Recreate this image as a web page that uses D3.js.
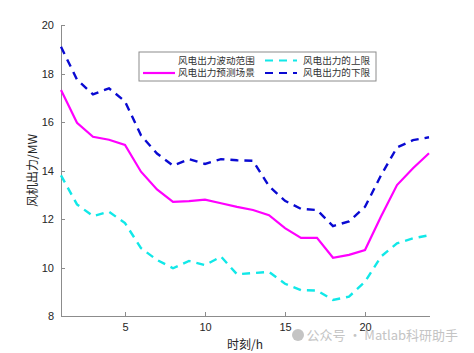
<!DOCTYPE html>
<meta charset="utf-8">
<head>
<style>
  body { margin: 0; background: #fff; }
  .axis text { font: 11px "Liberation Sans", Arial, sans-serif; fill: #262626; }
  .axis path, .axis line { stroke: #8c8c8c; shape-rendering: crispEdges; }
  .cjk { font-family: "Noto Sans CJK SC", sans-serif; }
</style>
</head>
<body>
<script src="https://d3js.org/d3.v7.min.js"></script>
<script>
// hours 1..24
var hours = d3.range(1, 25);
// forecast scenario (magenta)
var forecast = [17.32, 15.97, 15.39, 15.27, 15.05, 13.95, 13.22, 12.71, 12.74, 12.8, 12.65, 12.5,
                12.37, 12.16, 11.62, 11.22, 11.22, 10.4, 10.52, 10.72, 12.1, 13.4, 14.09, 14.71];
// upper bound (cyan dashed)
var upper = [13.8, 12.6, 12.12, 12.3, 11.83, 10.8, 10.31, 9.97, 10.27, 10.1, 10.45, 9.72,
             9.77, 9.82, 9.33, 9.07, 9.05, 8.66, 8.8, 9.41, 10.45, 11.0, 11.2, 11.33];
// lower bound (blue dashed)
var lower = [19.1, 17.75, 17.14, 17.39, 16.85, 15.45, 14.7, 14.2, 14.47, 14.27, 14.47, 14.42,
             14.4, 13.35, 12.75, 12.42, 12.37, 11.71, 11.9, 12.5, 13.8, 14.95, 15.25, 15.37];
var xTicks = [5, 10, 15, 20];
var yTicks = [8, 10, 12, 14, 16, 18, 20];

var W = 474, H = 353;
var margin = { top: 25, right: 45, bottom: 37, left: 61 },
    width = W - margin.left - margin.right,
    height = H - margin.top - margin.bottom;

var svg = d3.select("body").append("svg")
    .attr("width", W)
    .attr("height", H);

var g = svg.append("g")
    .attr("transform", "translate(" + margin.left + "," + margin.top + ")");

var x = d3.scaleLinear().domain([1, 24]).range([0, width]);
var y = d3.scaleLinear().domain([8, 20]).range([height, 0]);

//axes, ticks pointing inward
g.append("g")
    .attr("class", "axis")
    .attr("transform", "translate(0," + height + ")")
    .call(d3.axisBottom(x).tickValues(xTicks).tickSizeInner(-4).tickSizeOuter(0).tickPadding(7));

g.append("g")
    .attr("class", "axis")
    .call(d3.axisLeft(y).tickValues(yTicks).tickSizeInner(-4).tickSizeOuter(0).tickPadding(7));

//lines
var series = [
    { vals: forecast, color: "#ff00ff", width: 2.2, dash: null },
    { vals: upper, color: "#11e8e8", width: 2.4, dash: "8,6" },
    { vals: lower, color: "#0a0ad2", width: 2.4, dash: "8,6" }
];

var line = d3.line()
    .x(function(d, i) { return x(hours[i]); })
    .y(function(d) { return y(d); });

series.forEach(function(s) {
    g.append("path")
        .datum(s.vals)
        .attr("fill", "none")
        .attr("stroke", s.color)
        .attr("stroke-width", s.width)
        .attr("stroke-dasharray", s.dash)
        .attr("d", line);
});

//axis labels
svg.append("text")
    .attr("class", "cjk")
    .attr("x", margin.left + width / 2)
    .attr("y", 349)
    .attr("text-anchor", "middle")
    .style("font-size", "12px")
    .style("fill", "#262626")
    .text("时刻/h");

svg.append("text")
    .attr("class", "cjk")
    .attr("transform", "translate(37," + (margin.top + height / 2) + ") rotate(-90)")
    .attr("text-anchor", "middle")
    .style("font-size", "12px")
    .style("fill", "#262626")
    .text("风机出力/MW");

//legend
var leg = svg.append("g").attr("transform", "translate(139,52)");
leg.append("rect")
    .attr("width", 237).attr("height", 29)
    .attr("fill", "#fff").attr("stroke", "#8c8c8c").attr("stroke-width", 1);

var legItems = [
    { label: "风电出力波动范围", color: null, dash: null, col: 0, row: 0 },
    { label: "风电出力的上限", color: "#11e8e8", dash: "8,6", col: 1, row: 0 },
    { label: "风电出力预测场景", color: "#ff00ff", dash: null, col: 0, row: 1 },
    { label: "风电出力的下限", color: "#0a0ad2", dash: "8,6", col: 1, row: 1 }
];
legItems.forEach(function(d) {
    var ox = d.col === 0 ? 4 : 126, oy = d.row === 0 ? 8.5 : 21;
    if (d.color) {
        leg.append("line")
            .attr("x1", ox).attr("x2", ox + 32)
            .attr("y1", oy).attr("y2", oy)
            .attr("stroke", d.color).attr("stroke-width", 2.2)
            .attr("stroke-dasharray", d.dash);
    }
    leg.append("text")
        .attr("class", "cjk")
        .attr("x", ox + (d.col === 0 ? 35 : 38))
        .attr("y", oy)
        .attr("dy", "0.35em")
        .style("font-size", "9.6px")
        .style("fill", "#333")
        .text(d.label);
});

//watermark
svg.append("text")
    .attr("class", "cjk")
    .attr("x", 458).attr("y", 340)
    .attr("text-anchor", "end")
    .style("font-size", "13px")
    .style("fill", "#c4c4c4")
    .text("公众号 · Matlab科研助手");
svg.append("circle")
    .attr("cx", 298).attr("cy", 335).attr("r", 6)
    .attr("fill", "#c4c4c4");
</script>
</body>
